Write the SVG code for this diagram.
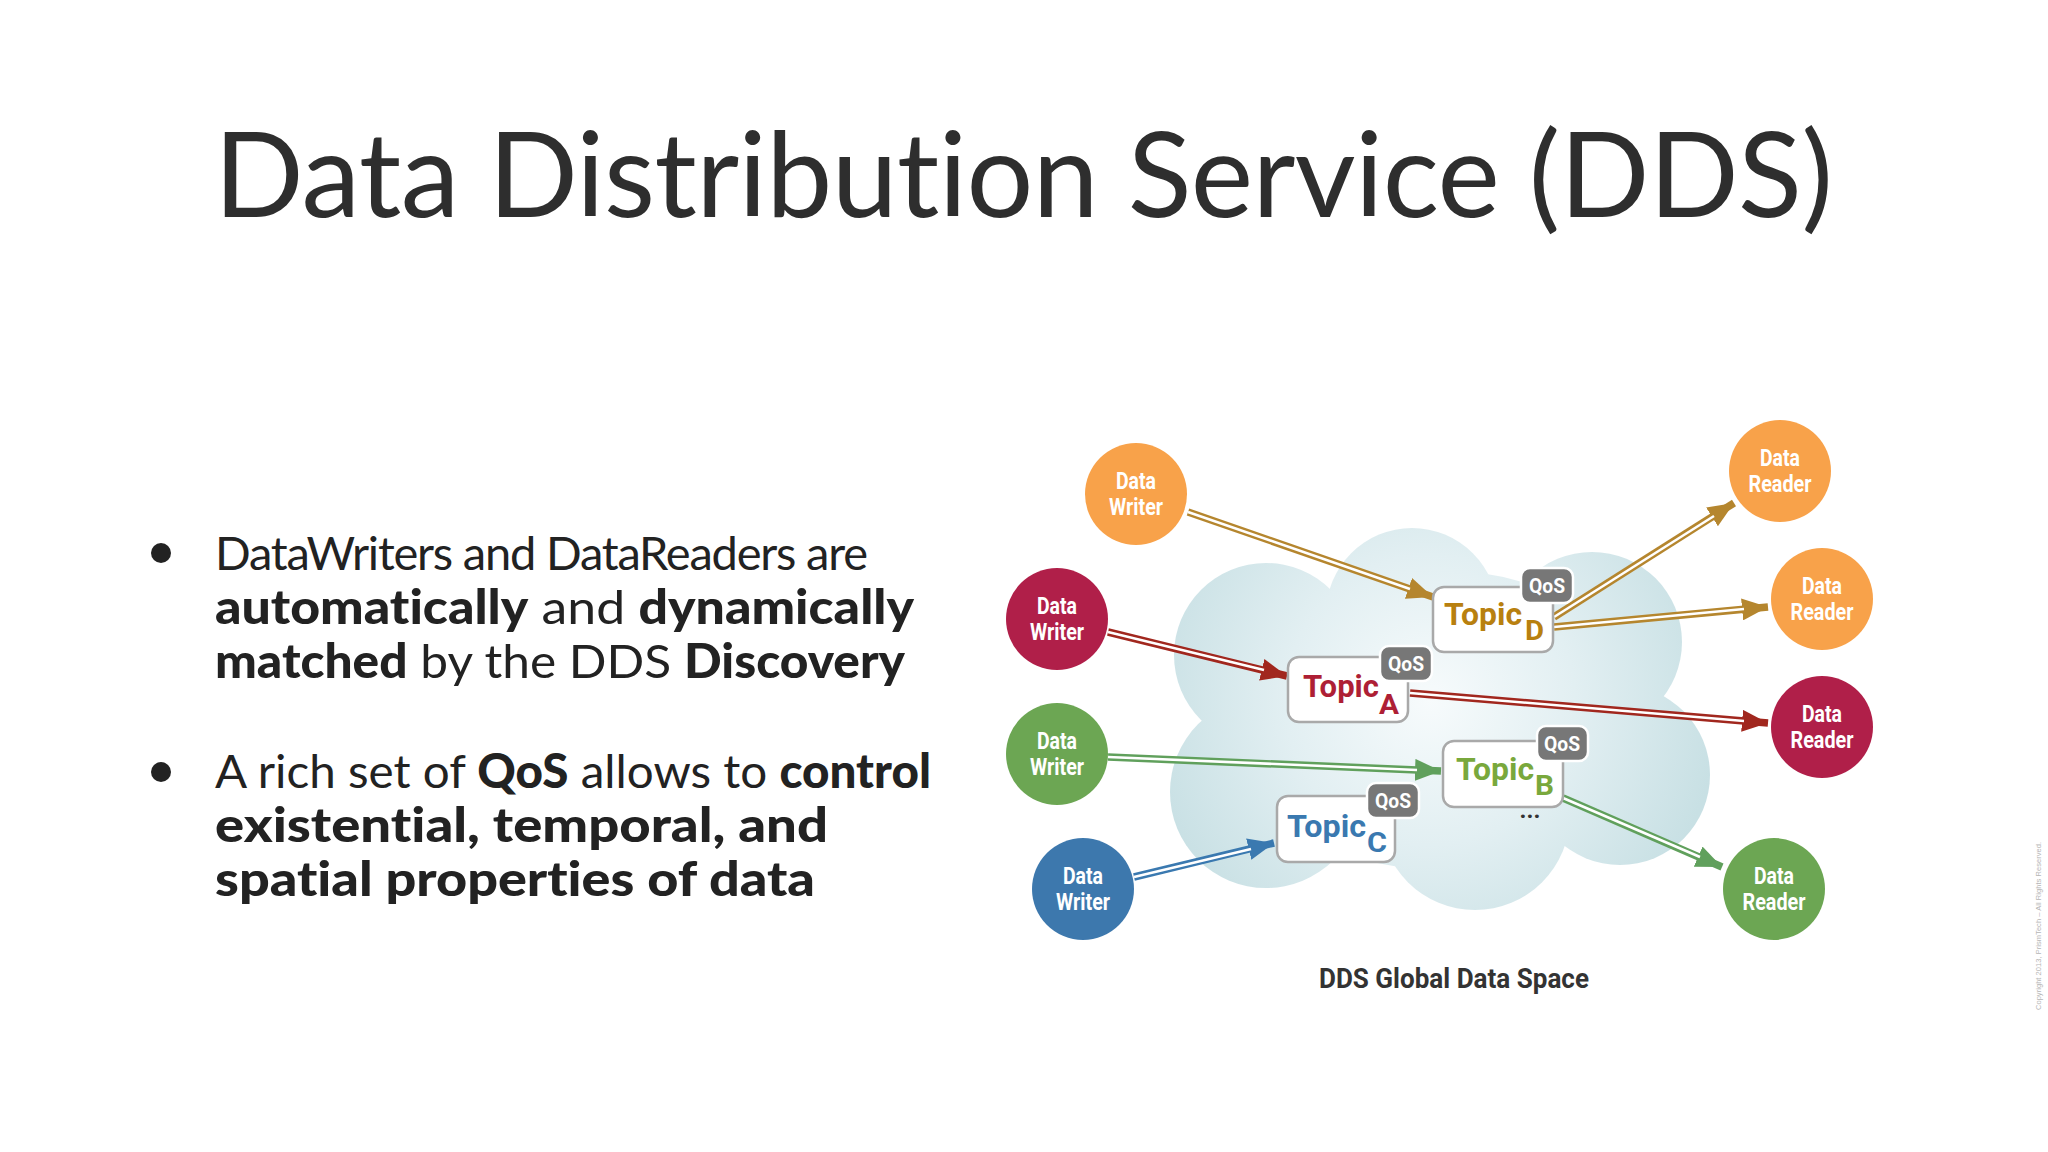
<svg xmlns="http://www.w3.org/2000/svg" width="2048" height="1152" viewBox="0 0 2048 1152">
<defs>
<style>
text{font-variant-ligatures:none}
.title{font-family:Lato,"Open Sans","Liberation Sans",sans-serif;font-size:118px;fill:#2e2e2e}
.body{font-family:Lato,"Open Sans","Liberation Sans",sans-serif;font-size:47px;fill:#222}
.b{font-weight:900}
.node{font-family:Roboto,"Liberation Sans",sans-serif;font-weight:bold;font-size:23px;fill:#fff;text-anchor:middle}
.topic{font-family:Roboto,"Liberation Sans",sans-serif;font-weight:bold;font-size:31px}
.sub{font-family:Roboto,"Liberation Sans",sans-serif;font-weight:bold;font-size:28px}
.qos{font-family:Roboto,"Liberation Sans",sans-serif;font-weight:bold;font-size:20px;fill:#fff;text-anchor:middle}
.box{fill:#fff;stroke:#a9a9a9;stroke-width:2.5}
.badge{fill:#777;stroke:#fff;stroke-width:2.5}
.inner{stroke:#fff;stroke-width:2.6;fill:none}
.outer{stroke-width:7.5;fill:none}
.caption{font-family:Roboto,"Liberation Sans",sans-serif;font-weight:bold;font-size:28px;fill:#333;text-anchor:middle}
</style>
<radialGradient id="cloudG" gradientUnits="userSpaceOnUse" cx="1430" cy="700" r="290">
<stop offset="0" stop-color="#f7fbfc"/>
<stop offset="0.5" stop-color="#e2eff2"/>
<stop offset="1" stop-color="#c8e0e4"/>
</radialGradient>
<marker id="mOr" markerUnits="userSpaceOnUse" markerWidth="26" markerHeight="22" refX="26" refY="11" orient="auto"><path d="M0,0 L26,11 L0,22 z" fill="#b5862e"/></marker>
<marker id="mRd" markerUnits="userSpaceOnUse" markerWidth="26" markerHeight="22" refX="26" refY="11" orient="auto"><path d="M0,0 L26,11 L0,22 z" fill="#a1271e"/></marker>
<marker id="mGr" markerUnits="userSpaceOnUse" markerWidth="26" markerHeight="22" refX="26" refY="11" orient="auto"><path d="M0,0 L26,11 L0,22 z" fill="#60a05c"/></marker>
<marker id="mBl" markerUnits="userSpaceOnUse" markerWidth="26" markerHeight="22" refX="26" refY="11" orient="auto"><path d="M0,0 L26,11 L0,22 z" fill="#3a79b0"/></marker>
</defs>
<rect width="2048" height="1152" fill="#fff"/>

<text class="title" x="214" y="217" textLength="1619">Data Distribution Service (DDS)</text>

<g id="bullets">
<circle cx="161" cy="553" r="10" fill="#222"/>
<circle cx="161" cy="772" r="10" fill="#222"/>
<text class="body" x="215" y="570" textLength="653">DataWriters and DataReaders are</text>
<text class="body" x="215" y="624" textLength="699" lengthAdjust="spacingAndGlyphs"><tspan class="b">automatically</tspan> and <tspan class="b">dynamically</tspan></text>
<text class="body" x="215" y="678" textLength="690" lengthAdjust="spacingAndGlyphs"><tspan class="b">matched</tspan> by the DDS <tspan class="b">Discovery</tspan></text>
<text class="body" x="215" y="788" textLength="716" lengthAdjust="spacingAndGlyphs">A rich set of <tspan class="b">QoS</tspan> allows to <tspan class="b">control</tspan></text>
<text class="body b" x="215" y="842" textLength="613" lengthAdjust="spacingAndGlyphs">existential, temporal, and</text>
<text class="body b" x="215" y="896" textLength="600" lengthAdjust="spacingAndGlyphs">spatial properties of data</text>
</g>

<g id="cloud" fill="url(#cloudG)">
<circle cx="1412" cy="614" r="86"/>
<circle cx="1592" cy="642" r="90"/>
<circle cx="1266" cy="655" r="92"/>
<circle cx="1266" cy="792" r="96"/>
<circle cx="1475" cy="815" r="95"/>
<circle cx="1620" cy="775" r="90"/>
<ellipse cx="1440" cy="720" rx="210" ry="150"/>
</g>

<g id="connectors">
<path class="outer" stroke="#b5862e" marker-end="url(#mOr)" d="M1188,512 L1433,597"/>
<path class="inner" d="M1188,512 L1410,589"/>
<path class="outer" stroke="#b5862e" marker-end="url(#mOr)" d="M1554,617 L1734,503"/>
<path class="inner" d="M1554,617 L1714,516"/>
<path class="outer" stroke="#b5862e" marker-end="url(#mOr)" d="M1554,627 L1768,607"/>
<path class="inner" d="M1554,627 L1744,609"/>
<path class="outer" stroke="#a1271e" marker-end="url(#mRd)" d="M1108,632 L1287,676"/>
<path class="inner" d="M1108,632 L1264,670"/>
<path class="outer" stroke="#a1271e" marker-end="url(#mRd)" d="M1410,693 L1768,723"/>
<path class="inner" d="M1410,693 L1744,721"/>
<path class="outer" stroke="#60a05c" marker-end="url(#mGr)" d="M1108,757 L1441,771"/>
<path class="inner" d="M1108,757 L1417,770"/>
<path class="outer" stroke="#60a05c" marker-end="url(#mGr)" d="M1563,798 L1722,867"/>
<path class="inner" d="M1563,798 L1700,857"/>
<path class="outer" stroke="#3a79b0" marker-end="url(#mBl)" d="M1134,877 L1274,843"/>
<path class="inner" d="M1134,877 L1251,849"/>
</g>

<g id="writer-orange">
<circle cx="1136" cy="494" r="51" fill="#f8a24a"/>
<text class="node" x="1136" y="489" textLength="40" lengthAdjust="spacingAndGlyphs">Data</text>
<text class="node" x="1136" y="515" textLength="54" lengthAdjust="spacingAndGlyphs">Writer</text>
</g>
<g id="writer-crimson">
<circle cx="1057" cy="619" r="51" fill="#b01f49"/>
<text class="node" x="1057" y="614" textLength="40" lengthAdjust="spacingAndGlyphs">Data</text>
<text class="node" x="1057" y="640" textLength="54" lengthAdjust="spacingAndGlyphs">Writer</text>
</g>
<g id="writer-green">
<circle cx="1057" cy="754" r="51" fill="#6ca653"/>
<text class="node" x="1057" y="749" textLength="40" lengthAdjust="spacingAndGlyphs">Data</text>
<text class="node" x="1057" y="775" textLength="54" lengthAdjust="spacingAndGlyphs">Writer</text>
</g>
<g id="writer-blue">
<circle cx="1083" cy="889" r="51" fill="#3d78ad"/>
<text class="node" x="1083" y="884" textLength="40" lengthAdjust="spacingAndGlyphs">Data</text>
<text class="node" x="1083" y="910" textLength="54" lengthAdjust="spacingAndGlyphs">Writer</text>
</g>
<g id="reader-orange-1">
<circle cx="1780" cy="471" r="51" fill="#f8a24a"/>
<text class="node" x="1780" y="466" textLength="40" lengthAdjust="spacingAndGlyphs">Data</text>
<text class="node" x="1780" y="492" textLength="63" lengthAdjust="spacingAndGlyphs">Reader</text>
</g>
<g id="reader-orange-2">
<circle cx="1822" cy="599" r="51" fill="#f8a24a"/>
<text class="node" x="1822" y="594" textLength="40" lengthAdjust="spacingAndGlyphs">Data</text>
<text class="node" x="1822" y="620" textLength="63" lengthAdjust="spacingAndGlyphs">Reader</text>
</g>
<g id="reader-crimson">
<circle cx="1822" cy="727" r="51" fill="#b01f49"/>
<text class="node" x="1822" y="722" textLength="40" lengthAdjust="spacingAndGlyphs">Data</text>
<text class="node" x="1822" y="748" textLength="63" lengthAdjust="spacingAndGlyphs">Reader</text>
</g>
<g id="reader-green">
<circle cx="1774" cy="889" r="51" fill="#6ca653"/>
<text class="node" x="1774" y="884" textLength="40" lengthAdjust="spacingAndGlyphs">Data</text>
<text class="node" x="1774" y="910" textLength="63" lengthAdjust="spacingAndGlyphs">Reader</text>
</g>

<g id="topic-D">
<rect class="box" x="1433" y="587" width="120" height="65" rx="11"/>
<rect class="badge" x="1521" y="568" width="52" height="35" rx="9"/>
<text class="qos" x="1547" y="593" textLength="36" lengthAdjust="spacingAndGlyphs">QoS</text>
<text class="topic" x="1444" y="625" fill="#b8800f" textLength="78" lengthAdjust="spacingAndGlyphs">Topic</text>
<text class="sub" x="1525" y="640" fill="#b8800f" textLength="19" lengthAdjust="spacingAndGlyphs">D</text>
</g>
<g id="topic-A">
<rect class="box" x="1288" y="657" width="120" height="65" rx="11"/>
<rect class="badge" x="1380" y="646" width="52" height="35" rx="9"/>
<text class="qos" x="1406" y="671" textLength="36" lengthAdjust="spacingAndGlyphs">QoS</text>
<text class="topic" x="1303" y="697" fill="#ae1f35" textLength="76" lengthAdjust="spacingAndGlyphs">Topic</text>
<text class="sub" x="1379" y="714" fill="#ae1f35" textLength="20" lengthAdjust="spacingAndGlyphs">A</text>
</g>
<g id="topic-B">
<rect class="box" x="1443" y="741" width="120" height="66" rx="11"/>
<rect class="badge" x="1537" y="726" width="51" height="35" rx="9"/>
<text class="qos" x="1562" y="751" textLength="36" lengthAdjust="spacingAndGlyphs">QoS</text>
<text class="topic" x="1456" y="780" fill="#79a83c" textLength="78" lengthAdjust="spacingAndGlyphs">Topic</text>
<text class="sub" x="1535" y="795" fill="#79a83c" textLength="19" lengthAdjust="spacingAndGlyphs">B</text>
<text x="1530" y="818" font-family="Roboto,'Liberation Sans',sans-serif" font-weight="bold" font-size="24" fill="#333" text-anchor="middle">...</text>
</g>
<g id="topic-C">
<rect class="box" x="1277" y="796" width="118" height="66" rx="11"/>
<rect class="badge" x="1367" y="783" width="52" height="35" rx="9"/>
<text class="qos" x="1393" y="808" textLength="36" lengthAdjust="spacingAndGlyphs">QoS</text>
<text class="topic" x="1287" y="837" fill="#3a79b0" textLength="79" lengthAdjust="spacingAndGlyphs">Topic</text>
<text class="sub" x="1367" y="852" fill="#3a79b0" textLength="20" lengthAdjust="spacingAndGlyphs">C</text>
</g>

<text class="caption" x="1454" y="988" textLength="270" lengthAdjust="spacingAndGlyphs">DDS Global Data Space</text>

<text transform="translate(2041,1010) rotate(-90)" font-family="'Liberation Sans',sans-serif" font-size="7.5" fill="#b5b5b5" textLength="168">Copyright 2013, PrismTech – All Rights Reserved.</text>
</svg>
